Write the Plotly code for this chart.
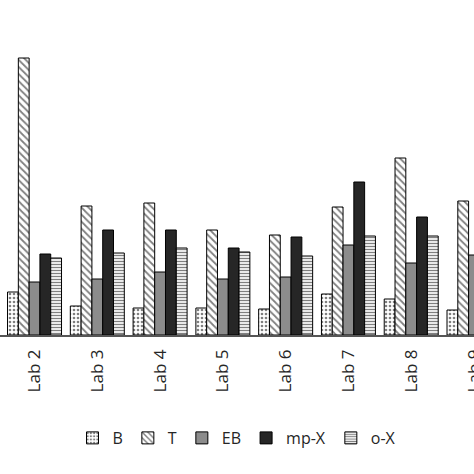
import plotly.graph_objects as go

labs = ["Lab 2", "Lab 3", "Lab 4", "Lab 5", "Lab 6", "Lab 7", "Lab 8", "Lab 9"]
B = [43, 29, 27, 27, 26, 41, 36, 25]
T = [277, 129, 132, 105, 100, 128, 177, 134]
EB = [53, 56, 63, 56, 58, 90, 72, 80]
mpX = [81, 105, 105, 87, 98, 153, 118, 125]
oX = [77, 82, 87, 83, 79, 99, 99, 95]

series = [
    ("B", B, dict(shape=".", fgcolor="#000000", bgcolor="#ffffff", size=4, solidity=0.35), "#ffffff"),
    ("T", T, dict(shape="\\", fgcolor="#000000", bgcolor="#ffffff", size=5, solidity=0.35), "#ffffff"),
    ("EB", EB, dict(shape=""), "#8c8c8c"),
    ("mp-X", mpX, dict(shape=""), "#262626"),
    ("o-X", oX, dict(shape="-", fgcolor="#000000", bgcolor="#ffffff", size=3, solidity=0.45), "#ffffff"),
]

fig = go.Figure()
for name, vals, pat, col in series:
    fig.add_trace(go.Bar(
        x=labs, y=vals, name=name,
        marker=dict(color=col, pattern=pat, line=dict(color="#000000", width=1)),
    ))

fig.update_layout(
    width=474, height=474,
    margin=dict(l=0, r=0, t=20, b=139, autoexpand=False),
    plot_bgcolor="#ffffff", paper_bgcolor="#ffffff",
    barmode="group", bargap=0.14, bargroupgap=0,
    font=dict(family="Open Sans", size=17, color="#262626"),
    showlegend=True,
    legend=dict(orientation="h", x=0.5, xanchor="center", yref="container", y=0.076,
                yanchor="middle", font=dict(size=16, color="#262626"), itemwidth=30,
                traceorder="normal"),
)
fig.update_xaxes(range=[-0.55, 7.0], showline=True, linecolor="#555555", linewidth=1.5,
                 tickangle=-90, ticks="", showgrid=False, tickfont=dict(size=17),
                 ticklabelstandoff=6, automargin=False)
fig.update_yaxes(range=[0, 315], visible=False, showgrid=False)

fig.write_html("out.html", config={"displayModeBar": False},
               post_script="document.body.style.margin='0';document.body.style.overflow='hidden';")
